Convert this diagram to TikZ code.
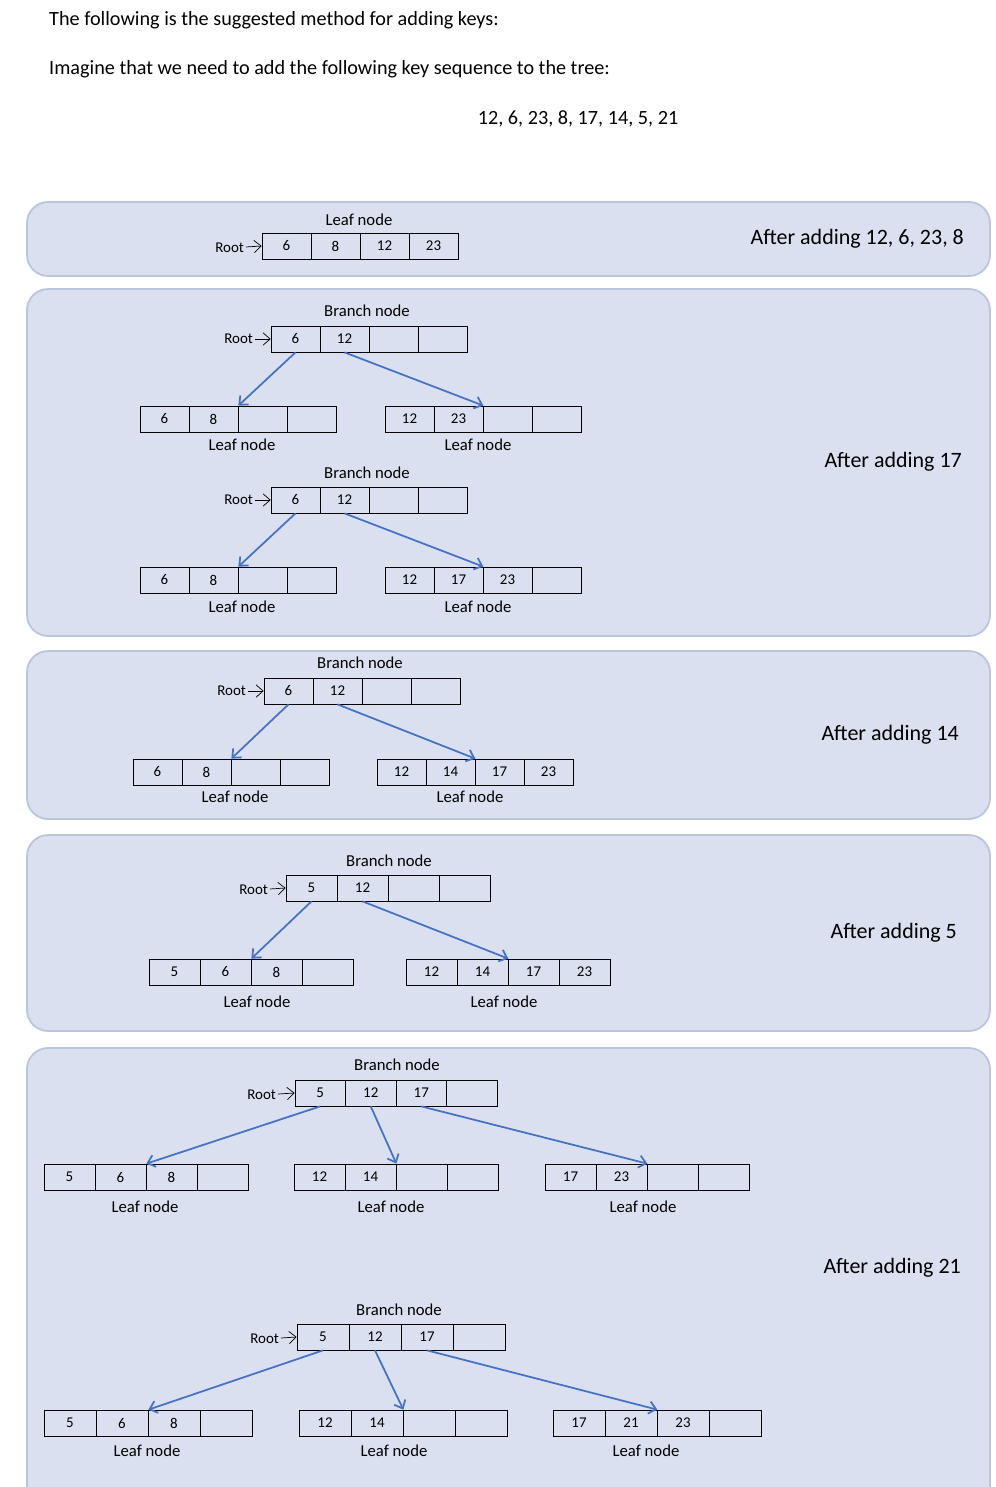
\documentclass[tikz,border=0pt]{standalone}
\usepackage{fontspec}
\setmainfont{Carlito}
\usetikzlibrary{arrows.meta}
\definecolor{panelfill}{HTML}{DAE0EF}
\definecolor{paneldraw}{HTML}{B9C4DF}
\definecolor{linkblue}{HTML}{4472C4}
\def\u{0.02cm}
% one row of key cells: name, left x, centre y, cell width, keys
\newcommand{\keyrow}[5]{%
  \foreach \k [count=\i] in {#5}
    \node[keycell, minimum width=#4*\u] (#1-\i) at ({#2+(\i-0.5)*#4}, #3) {\k};}
\begin{document}
\begin{tikzpicture}[x=\u, y=-\u, >={Straight Barb[length=4pt,width=7pt]}]
\tikzstyle{keycell}=[rectangle,draw,minimum height=26*\u,inner sep=0pt,font=\fontsize{8.5}{10}\selectfont]
\tikzstyle{panelbox}=[draw=paneldraw,fill=panelfill,line width=1pt,rounded corners=12pt]
\tikzstyle{nodecap}=[font=\fontsize{9.5}{11}\selectfont]
\tikzstyle{steplabel}=[font=\fontsize{12.5}{14}\selectfont,anchor=east]
\tikzstyle{rootlabel}=[font=\fontsize{8.5}{10}\selectfont,anchor=east,inner sep=1pt]
\tikzstyle{treelink}=[->,draw=linkblue,line width=1pt]
\useasboundingbox (0,0) rectangle (995,1487);
\node[anchor=west,font=\fontsize{11.5}{13}\selectfont] (head1) at (43,20) {The following is the suggested method for adding keys:};
\node[anchor=west,font=\fontsize{11.5}{13}\selectfont] (head2) at (43,69) {Imagine that we need to add the following key sequence to the tree:};
\node[font=\fontsize{11.5}{13}\selectfont] (seq) at (578,119) {12, 6, 23, 8, 17, 14, 5, 21};
% panels
\draw[panelbox] (27,202) rectangle (990,276);
\draw[panelbox] (27,289) rectangle (990,636);
\draw[panelbox] (27,651) rectangle (990,819);
\draw[panelbox] (27,835) rectangle (990,1031);
\draw[panelbox] (27,1048) rectangle (990,1520);
% after 12, 6, 23, 8
\keyrow{a}{262}{246}{49}{6,8,12,23}
\node[nodecap] (la) at (359,220) {Leaf node};
\node[rootlabel] (ra) at (246,248) {Root};
\draw[->] (ra) -- (a-1.west);
\node[steplabel] (sa) at (970,239) {After adding 12, 6, 23, 8};
% after 17
\keyrow{b}{271}{339}{49}{6,12,{},{}}
\node[nodecap] (bb) at (367,311) {Branch node};
\node[rootlabel] (rb) at (255,339) {Root};
\draw[->] (rb) -- (b-1.west);
\keyrow{bl}{140}{419}{49}{6,8,{},{}}
\keyrow{br}{385}{419}{49}{12,23,{},{}}
\node[nodecap] (lbl) at (242,445) {Leaf node};
\node[nodecap] (lbr) at (478,445) {Leaf node};
\draw[treelink] (b-1.south) -- (bl-2.north east);
\draw[treelink] (b-2.south) -- (br-2.north east);
\keyrow{c}{271}{500}{49}{6,12,{},{}}
\node[nodecap] (bc) at (367,473) {Branch node};
\node[rootlabel] (rc) at (255,500) {Root};
\draw[->] (rc) -- (c-1.west);
\keyrow{cl}{140}{580}{49}{6,8,{},{}}
\keyrow{cr}{385}{580}{49}{12,17,23,{}}
\node[nodecap] (lcl) at (242,607) {Leaf node};
\node[nodecap] (lcr) at (478,607) {Leaf node};
\draw[treelink] (c-1.south) -- (cl-2.north east);
\draw[treelink] (c-2.south) -- (cr-2.north east);
\node[steplabel] (sb) at (968,462) {After adding 17};
% after 14
\keyrow{d}{264}{691}{49}{6,12,{},{}}
\node[nodecap] (bd) at (360,663) {Branch node};
\node[rootlabel] (rd) at (248,691) {Root};
\draw[->] (rd) -- (d-1.west);
\keyrow{dl}{133}{772}{49}{6,8,{},{}}
\keyrow{dr}{377}{772}{49}{12,14,17,23}
\node[nodecap] (ldl) at (235,797) {Leaf node};
\node[nodecap] (ldr) at (470,797) {Leaf node};
\draw[treelink] (d-1.south) -- (dl-2.north east);
\draw[treelink] (d-2.south) -- (dr-2.north east);
\node[steplabel] (sd) at (965,735) {After adding 14};
% after 5
\keyrow{e}{286}{888}{51}{5,12,{},{}}
\node[nodecap] (be) at (389,861) {Branch node};
\node[rootlabel] (re) at (270,890) {Root};
\draw[->] (re) -- (e-1.west);
\keyrow{el}{149}{972}{51}{5,6,8,{}}
\keyrow{er}{406}{972}{51}{12,14,17,23}
\node[nodecap] (lel) at (257,1002) {Leaf node};
\node[nodecap] (ler) at (504,1002) {Leaf node};
\draw[treelink] (e-1.south) -- (el-2.north east);
\draw[treelink] (e-2.south) -- (er-2.north east);
\node[steplabel] (se) at (963,933) {After adding 5};
% after 21
\keyrow{f}{295}{1093}{50.5}{5,12,17,{}}
\node[nodecap] (bf) at (397,1065) {Branch node};
\node[rootlabel] (rf) at (278,1095) {Root};
\draw[->] (rf) -- (f-1.west);
\keyrow{fa}{44}{1177}{51}{5,6,8,{}}
\keyrow{fb}{294}{1177}{51}{12,14,{},{}}
\keyrow{fc}{545}{1177}{51}{17,23,{},{}}
\node[nodecap] (lfa) at (145,1207) {Leaf node};
\node[nodecap] (lfb) at (391,1207) {Leaf node};
\node[nodecap] (lfc) at (643,1207) {Leaf node};
\draw[treelink] (f-1.south) -- (fa-2.north east);
\draw[treelink] (f-2.south) -- (fb-2.north east);
\draw[treelink] (f-3.south) -- (fc-2.north east);
\keyrow{g}{297}{1337}{52}{5,12,17,{}}
\node[nodecap] (bg) at (399,1310) {Branch node};
\node[rootlabel] (rg) at (281,1339) {Root};
\draw[->] (rg) -- (g-1.west);
\keyrow{ga}{44}{1423}{52}{5,6,8,{}}
\keyrow{gb}{299}{1423}{52}{12,14,{},{}}
\keyrow{gc}{553}{1423}{52}{17,21,23,{}}
\node[nodecap] (lga) at (147,1451) {Leaf node};
\node[nodecap] (lgb) at (394,1451) {Leaf node};
\node[nodecap] (lgc) at (646,1451) {Leaf node};
\draw[treelink] (g-1.south) -- (ga-2.north east);
\draw[treelink] (g-2.south) -- (gb-2.north east);
\draw[treelink] (g-3.south) -- (gc-2.north east);
\node[steplabel] (sg) at (967,1268) {After adding 21};
\end{tikzpicture}
\end{document}
